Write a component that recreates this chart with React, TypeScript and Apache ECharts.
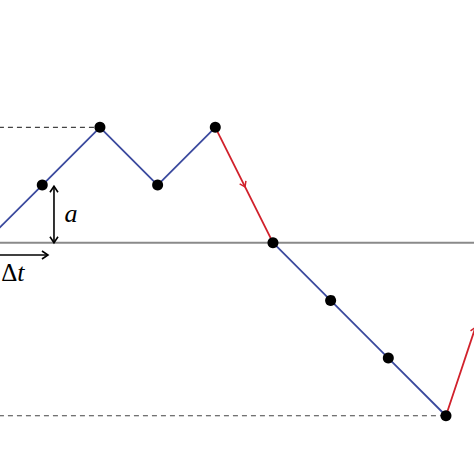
import React, { useEffect, useRef } from 'react';
import * as echarts from 'echarts';

// random walk: time steps and the position after each step
const steps = [0, 1, 2, 3, 4, 5, 6, 7, 8, 9];
const walk = [0, 1, 2, 1, 2, 0, -1, -2, -3, 0];
// steps that are drawn as red jumps (index of the starting point)
const jumps = [4, 8];
// dashed reference levels and how far they reach in time
const upperLevel = { level: 2, until: 2 };
const lowerLevel = { level: -3, until: 8 };
// annotations: [x0, y0, x1, y1, heads]
const annotArrows = [
  [1.203, 0, 1.203, 0.98, 2],
  [-0.2, -0.213, 1.099, -0.213, 1],
];
const annotLabels = [
  { value: [1.5, 0.51], text: '{i|a}' },
  { value: [0.49, -0.51], text: '{n|Δ}{i|t}' },
];
const xRange = [0.267, 8.486];
const yRange = [-4.01, 4.208];

const BLUE = '#3b4a9e';
const RED = '#d1212b';
const SERIF = '"Liberation Serif", "DejaVu Serif", serif';

function chevron(tx: number, ty: number, ux: number, uy: number, L: number, W: number) {
  return [
    [tx - ux * L - uy * W, ty - uy * L + ux * W],
    [tx, ty],
    [tx - ux * L + uy * W, ty - uy * L - ux * W],
  ];
}

function buildOption() {
  // split the walk into blue runs, cut at the red jumps
  const runs: number[][][] = [];
  let cur: number[][] = [];
  steps.forEach((t, i) => {
    cur.push([t, walk[i]]);
    if (jumps.includes(i) || i === steps.length - 1) {
      if (cur.length > 1) runs.push(cur);
      cur = [];
    }
  });
  const jumpData = jumps.map((i) => [steps[i], walk[i], steps[i + 1], walk[i + 1]]);

  const series: any[] = [
    {
      type: 'line',
      data: [[-1, 0], [10, 0]],
      symbol: 'none',
      lineStyle: { color: '#8a8a8a', width: 2 },
      z: 1,
    },
    {
      type: 'line',
      data: [[-1, upperLevel.level], [upperLevel.until, upperLevel.level]],
      symbol: 'none',
      lineStyle: { color: '#444', width: 1.2, type: [5, 4] },
      z: 1,
    },
    {
      type: 'line',
      data: [[-1, lowerLevel.level], [lowerLevel.until, lowerLevel.level]],
      symbol: 'none',
      lineStyle: { color: '#444', width: 1.2, type: [5, 4] },
      z: 1,
    },
    ...runs.map((r) => ({
      type: 'line',
      data: r,
      symbol: 'none',
      lineStyle: { color: BLUE, width: 1.8 },
      z: 2,
    })),
    {
      type: 'custom',
      data: jumpData,
      encode: { x: [0, 2], y: [1, 3] },
      z: 2,
      renderItem: (params: any, api: any) => {
        const p0 = api.coord([api.value(0), api.value(1)]);
        const p1 = api.coord([api.value(2), api.value(3)]);
        const dx = p1[0] - p0[0];
        const dy = p1[1] - p0[1];
        const len = Math.hypot(dx, dy);
        const ux = dx / len;
        const uy = dy / len;
        const mx = (p0[0] + p1[0]) / 2 + ux * 2;
        const my = (p0[1] + p1[1]) / 2 + uy * 2;
        return {
          type: 'group',
          children: [
            {
              type: 'line',
              shape: { x1: p0[0], y1: p0[1], x2: p1[0], y2: p1[1] },
              style: { stroke: RED, lineWidth: 1.8 },
            },
            {
              type: 'polyline',
              shape: { points: chevron(mx, my, ux, uy, 5, 3.5) },
              style: { stroke: RED, fill: 'none', lineWidth: 1.5 },
            },
          ],
        };
      },
    },
    {
      type: 'scatter',
      data: steps.map((t, i) => [t, walk[i]]),
      symbolSize: 11,
      itemStyle: { color: '#000', opacity: 1 },
      z: 5,
    },
    {
      type: 'custom',
      data: annotArrows,
      encode: { x: [0, 2], y: [1, 3] },
      z: 3,
      renderItem: (params: any, api: any) => {
        const p0 = api.coord([api.value(0), api.value(1)]);
        const p1 = api.coord([api.value(2), api.value(3)]);
        const dx = p1[0] - p0[0];
        const dy = p1[1] - p0[1];
        const len = Math.hypot(dx, dy);
        const ux = dx / len;
        const uy = dy / len;
        const style = { stroke: '#000', fill: 'none', lineWidth: 1.6 };
        const children: any[] = [
          { type: 'line', shape: { x1: p0[0], y1: p0[1], x2: p1[0], y2: p1[1] }, style },
          { type: 'polyline', shape: { points: chevron(p1[0], p1[1], ux, uy, 6, 4) }, style },
        ];
        if (api.value(4) === 2) {
          children.push({
            type: 'polyline',
            shape: { points: chevron(p0[0], p0[1], -ux, -uy, 6, 4) },
            style,
          });
        }
        return { type: 'group', children };
      },
    },
    {
      type: 'scatter',
      data: annotLabels.map((l) => ({ value: l.value, text: l.text })),
      symbolSize: 0,
      itemStyle: { opacity: 1 },
      z: 4,
      label: {
        show: true,
        position: 'inside',
        color: '#000',
        fontFamily: SERIF,
        fontSize: 26,
        formatter: (p: any) => p.data.text,
        rich: {
          i: { fontFamily: SERIF, fontStyle: 'italic', fontSize: 26, color: '#000' },
          n: { fontFamily: SERIF, fontSize: 25, color: '#000' },
        },
      },
    },
  ];

  return {
    animation: false,
    backgroundColor: '#fff',
    grid: { left: 0, right: 0, top: 0, bottom: 0, containLabel: false },
    xAxis: { type: 'value', min: xRange[0], max: xRange[1], show: false },
    yAxis: { type: 'value', min: yRange[0], max: yRange[1], show: false },
    series,
  };
}

export default function App() {
  const ref = useRef<HTMLDivElement>(null);

  useEffect(() => {
    const chart = echarts.init(ref.current!, undefined, { renderer: 'svg' });
    chart.setOption(buildOption());
    return () => {
      chart.dispose();
    };
  }, []);

  return (
    <div
      ref={ref}
      style={{ position: 'fixed', left: 0, top: 0, width: '474px', height: '474px', background: '#fff' }}
    />
  );
}
